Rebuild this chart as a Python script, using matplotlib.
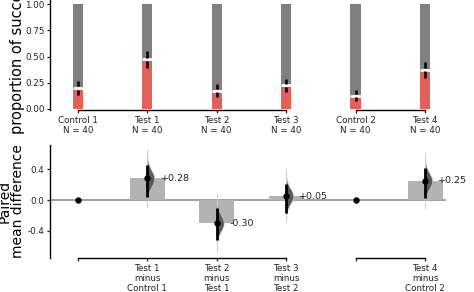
import numpy as np
import matplotlib
matplotlib.use("Agg")
import matplotlib.pyplot as plt
import matplotlib.transforms as mtransforms

# proportions of success per group (N = 40 each)
groups = ["Control 1", "Test 1", "Test 2", "Test 3", "Control 2", "Test 4"]
n_obs = [40, 40, 40, 40, 40, 40]
props = [0.20, 0.475, 0.175, 0.225, 0.125, 0.375]
prop_err = [0.063, 0.079, 0.060, 0.066, 0.052, 0.077]

# paired mean differences (sequential)
delta_labels = ["", "Test 1\nminus\nControl 1", "Test 2\nminus\nTest 1",
                "Test 3\nminus\nTest 2", "", "Test 4\nminus\nControl 2"]
delta_pos = [1, 2, 3, 5]
deltas = [0.28, -0.30, 0.05, 0.25]
ci_low = [0.04, -0.52, -0.17, 0.03]
ci_high = [0.45, -0.11, 0.21, 0.42]
control_pos = [0, 4]
spans = [(0, 3), (4, 5)]

red = "#e0605a"
grey = "#808080"

fig = plt.figure(figsize=(4.74, 2.92), dpi=100)
ax1 = fig.add_axes([0.1055, 0.6216, 0.8354, 0.3784])
ax2 = fig.add_axes([0.1055, 0.1164, 0.8354, 0.3870])

x = np.arange(len(groups))
bw = 0.15

# top: proportion bars
ax1.bar(x, [1.0] * len(x), width=bw, color=grey, zorder=1)
ax1.bar(x, props, width=bw, color=red, zorder=2)
ax1.hlines(props, x - bw / 2, x + bw / 2, color="white", lw=2, zorder=3)
for xi, p, e in zip(x, props, prop_err):
    ax1.plot([xi, xi], [p - e, p - 0.015], color="black", lw=1.8, zorder=4,
             solid_capstyle="butt")
    ax1.plot([xi, xi], [p + 0.015, p + e], color="black", lw=1.8, zorder=4,
             solid_capstyle="butt")

ax1.set_xlim(-0.4, 5.3)
ax1.set_ylim(-0.0143, 1.041)
ax1.set_yticks([0, 0.25, 0.5, 0.75, 1.0])
ax1.set_yticklabels(["0.00", "0.25", "0.50", "0.75", "1.00"])
ax1.set_xticks(x)
ax1.set_xticklabels([f"{g}\nN = {n}" for g, n in zip(groups, n_obs)])
ax1.set_ylabel("proportion of success", fontsize=10.5)
ax1.yaxis.set_label_coords(-0.064, 0.5)

# bottom: paired mean differences
ax2.axhline(0, color="#999999", lw=1.3, zorder=1)
ax2.bar(delta_pos, deltas, width=0.5, color="#b3b3b3", zorder=2)
for xp, d, lo, hi in zip(delta_pos, deltas, ci_low, ci_high):
    sd = (hi - lo) / 3.92
    yy = np.linspace(d - 3.6 * sd, d + 3.6 * sd, 200)
    dens = np.exp(-0.5 * ((yy - d) / sd) ** 2)
    ax2.fill_betweenx(yy, xp, xp + 0.1 * dens, color="#5a5a5a", lw=0.4,
                      edgecolor="#cccccc", zorder=3)
    ax2.plot([xp, xp], [lo, hi], color="black", lw=2, zorder=4,
             solid_capstyle="butt")
    ax2.plot(xp, d, "o", color="black", ms=3.6, zorder=5)
    ax2.text(xp + 0.19, d, f"{d:+.2f}", fontsize=6.8, va="center", ha="left",
             color="#222222", zorder=6)
ax2.plot(control_pos, [0, 0], "o", color="black", ms=3.6, zorder=5)

ax2.set_xlim(-0.4, 5.3)
ax2.set_ylim(-0.753, 0.714)
ax2.set_yticks([-0.4, 0.0, 0.4])
ax2.set_yticklabels(["-0.4", "0.0", "0.4"])
ax2.set_xticks(x)
ax2.set_xticklabels(delta_labels)
ax2.set_ylabel("Paired\nmean difference", fontsize=10, linespacing=1.0)
ax2.yaxis.set_label_coords(-0.062, 0.5)

for ax in (ax1, ax2):
    for s in ("top", "right", "bottom"):
        ax.spines[s].set_visible(False)
    ax.spines["left"].set_linewidth(1.0)
    ax.tick_params(labelsize=6.3, length=2.5, width=0.9, colors="#222222",
                   pad=1.5)
    trans = mtransforms.blended_transform_factory(ax.transData, ax.transAxes)
    for a, b in spans:
        ax.plot([a, b], [0, 0], color="black", lw=1.0, transform=trans,
                clip_on=False)

fig.savefig("out.png", dpi=100)
